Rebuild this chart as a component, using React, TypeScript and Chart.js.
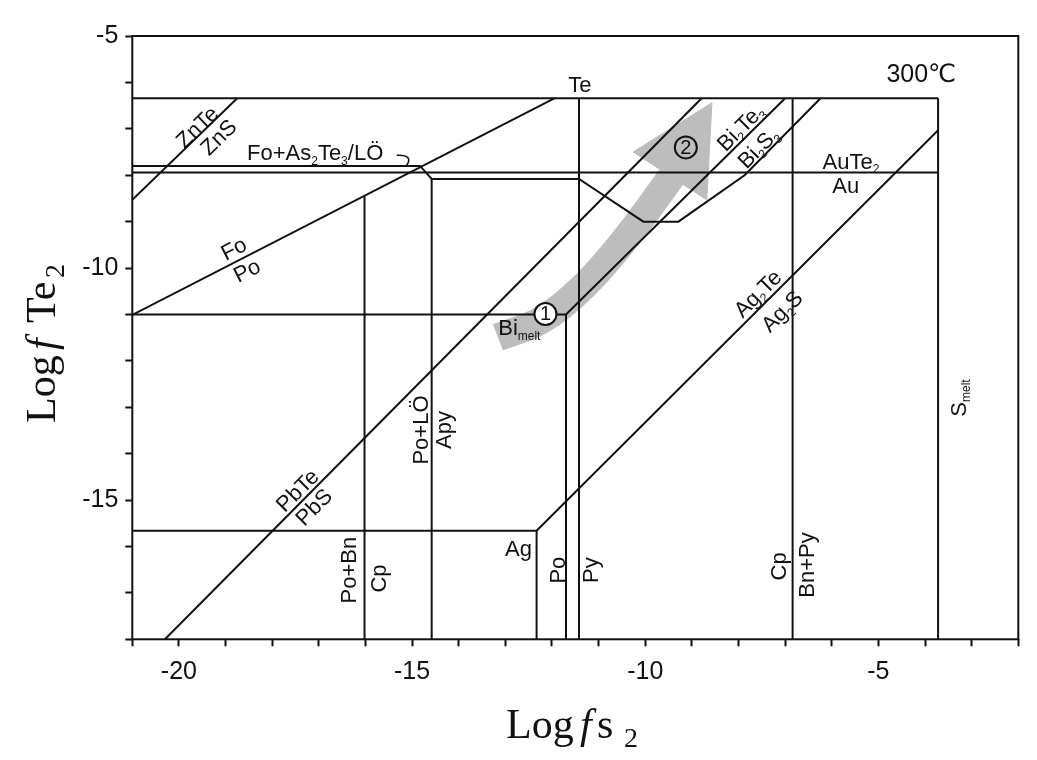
import { useEffect, useRef } from 'react';
import { Chart, registerables } from 'chart.js';

Chart.register(...registerables);

const SANS = "'Liberation Sans', Arial, 'DejaVu Sans', sans-serif";
const SERIF = "'Liberation Serif', 'Times New Roman', serif";
const INK = '#111111';
const ARROW_GRAY = '#bdbdbd';

// axis ranges and labelled ticks
const xRange = [-21, -2];
const yRange = [-18, -5];
const xLabeledTicks = [-20, -15, -10, -5];
const yLabeledTicks = [-5, -10, -15];

// phase boundaries, points as [log fS2, log fTe2]
const teBoundary = [[-21, -6.34], [-3.72, -6.34]];
const sMeltBoundary = [[-3.72, -6.34], [-3.72, -18]];
const foAsBoundary = [[-21, -7.8], [-14.83, -7.8], [-14.58, -8.08], [-11.42, -8.08], [-10.04, -9.0], [-9.29, -9.0], [-7.87, -8.0], [-6.24, -6.34]];
const auTe2Boundary = [[-21, -7.94], [-3.72, -7.94]];
const znTeBoundary = [[-21, -8.53], [-18.75, -6.34]];
const foPoBoundary = [[-21, -11.01], [-11.94, -6.34]];
const pbTeBoundary = [[-20.3, -18], [-8.79, -6.34]];
const biMeltBoundary = [[-21, -11.0], [-11.7, -11.0], [-7.0, -6.34]];
const poBoundary = [[-11.7, -11.0], [-11.7, -18]];
const pyBoundary = [[-11.42, -6.34], [-11.42, -18]];
const agBoundary = [[-21, -15.66], [-12.33, -15.66], [-3.72, -7.03]];
const agVertical = [[-12.33, -15.66], [-12.33, -18]];
const cpBnPyBoundary = [[-6.84, -6.34], [-6.84, -18]];
const apyBoundary = [[-14.58, -8.08], [-14.58, -18]];
const poBnBoundary = [[-16.02, -8.45], [-16.02, -18]];

// evolution arrow
const arrowShaft = [[-13.16, -11.49], [-12.26, -11.14], [-11.4, -10.47], [-10.71, -9.72], [-10.11, -8.96], [-9.43, -8.02]];
const arrowHead = [[-10.26, -7.5], [-8.57, -6.44], [-8.68, -8.53], [-10.26, -7.5]];

// field labels: text (_x / _{xx} = subscript), x, y, angle(deg)
const fieldLabels: [string, number, number, number][] = [
  ['ZnTe', -19.62, -6.95, -44],
  ['ZnS', -19.16, -7.17, -44],
  ['Fo', -18.83, -9.57, -27],
  ['Po', -18.55, -10.04, -27],
  ['PbTe', -17.47, -14.78, -45],
  ['PbS', -17.12, -15.14, -45],
  ['Po+LÖ', -14.83, -13.49, -90],
  ['Apy', -14.34, -13.49, -90],
  ['Po+Bn', -16.37, -16.51, -90],
  ['Cp', -15.72, -16.69, -90],
  ['Ag', -12.72, -16.04, 0],
  ['Po', -11.9, -16.51, -90],
  ['Py', -11.18, -16.51, -90],
  ['Bi_{melt}', -12.7, -11.28, 0],
  ['Ag_2Te', -7.6, -10.54, -45],
  ['Ag_2S', -7.08, -10.92, -45],
  ['Bi_2Te_3', -7.97, -6.96, -45],
  ['Bi_2S_3', -7.59, -7.4, -45],
  ['AuTe_2', -5.59, -7.69, 0],
  ['Au', -5.7, -8.22, 0],
  ['Cp', -7.15, -16.43, -90],
  ['Bn+Py', -6.55, -16.4, -90],
  ['S_{melt}', -3.29, -12.8, -90],
  ['Te', -11.4, -6.03, 0],
];
const foAsLabel: [string, number, number] = ['Fo+As_2Te_3/LÖ', -18.54, -7.51];
const tempLabel: [string, number, number] = ['300℃', -4.08, -5.8];
const stageMarks: [string, number, number, boolean][] = [
  ['1', -12.14, -10.99, true],
  ['2', -9.13, -7.4, false],
];
const leaderHook = [[-15.33, -7.57], [-14.96, -7.55], [-15.12, -7.8]];

type Part = { t: string; sub: boolean };
function parseRich(s: string): Part[] {
  const parts: Part[] = [];
  let buf = '';
  let i = 0;
  while (i < s.length) {
    const c = s[i];
    if (c === '_') {
      if (buf) { parts.push({ t: buf, sub: false }); buf = ''; }
      if (s[i + 1] === '{') {
        const end = s.indexOf('}', i);
        parts.push({ t: s.slice(i + 2, end), sub: true });
        i = end + 1;
      } else {
        parts.push({ t: s[i + 1], sub: true });
        i += 2;
      }
    } else {
      buf += c;
      i++;
    }
  }
  if (buf) parts.push({ t: buf, sub: false });
  return parts;
}

function drawRich(ctx: CanvasRenderingContext2D, text: string, x: number, y: number, angle: number, size: number, align: 'center' | 'left') {
  const parts = parseRich(text);
  const subSize = Math.round(size * 0.55);
  ctx.save();
  ctx.translate(x, y);
  ctx.rotate((angle * Math.PI) / 180);
  ctx.textAlign = 'left';
  ctx.textBaseline = 'alphabetic';
  let w = 0;
  for (const p of parts) {
    ctx.font = `${p.sub ? subSize : size}px ${SANS}`;
    w += ctx.measureText(p.t).width;
  }
  let cx = align === 'center' ? -w / 2 : 0;
  const base = size * 0.36;
  for (const p of parts) {
    ctx.font = `${p.sub ? subSize : size}px ${SANS}`;
    ctx.fillText(p.t, cx, p.sub ? base + size * 0.2 : base);
    cx += ctx.measureText(p.t).width;
  }
  ctx.restore();
}

const overlayPlugin = {
  id: 'overlay',
  afterDatasetsDraw(chart: any) {
    const { ctx, chartArea: a, scales } = chart;
    const sx = scales.x;
    const sy = scales.y;
    const px = (v: number) => sx.getPixelForValue(v);
    const py = (v: number) => sy.getPixelForValue(v);
    ctx.save();
    ctx.strokeStyle = INK;
    ctx.fillStyle = INK;
    ctx.lineWidth = 2;
    ctx.strokeRect(a.left, a.top, a.right - a.left, a.bottom - a.top);

    for (const [t, x, y, ang] of fieldLabels) drawRich(ctx, t, px(x), py(y), ang, 22, 'center');
    drawRich(ctx, foAsLabel[0], px(foAsLabel[1]), py(foAsLabel[2]), 0, 22, 'left');
    drawRich(ctx, tempLabel[0], px(tempLabel[1]), py(tempLabel[2]), 0, 25, 'center');

    // leader hook from label to its boundary
    ctx.beginPath();
    ctx.lineWidth = 1.6;
    ctx.moveTo(px(leaderHook[0][0]), py(leaderHook[0][1]));
    ctx.quadraticCurveTo(px(leaderHook[1][0]), py(leaderHook[1][1]), px(leaderHook[2][0]), py(leaderHook[2][1]));
    ctx.stroke();

    // stage circles
    for (const [t, x, y, filled] of stageMarks) {
      const cx = px(x);
      const cy = py(y);
      ctx.beginPath();
      ctx.arc(cx, cy, 11, 0, Math.PI * 2);
      if (filled) { ctx.fillStyle = '#ffffff'; ctx.fill(); }
      ctx.lineWidth = 2;
      ctx.strokeStyle = INK;
      ctx.stroke();
      ctx.fillStyle = INK;
      ctx.font = `20px ${SANS}`;
      ctx.textAlign = 'center';
      ctx.textBaseline = 'middle';
      ctx.fillText(t, cx, cy + 1);
    }
    ctx.restore();
  },
  afterDraw(chart: any) {
    const { ctx } = chart;
    ctx.save();
    ctx.fillStyle = INK;
    ctx.textAlign = 'left';
    ctx.textBaseline = 'alphabetic';
    // x title: Log fs2
    ctx.font = `42px ${SERIF}`;
    ctx.fillText('Log', 506, 738);
    ctx.font = `italic 42px ${SERIF}`;
    ctx.fillText('f', 580, 738);
    ctx.font = `42px ${SERIF}`;
    ctx.fillText('s', 597, 738);
    ctx.font = `28px ${SERIF}`;
    ctx.fillText('2', 624, 747);
    // y title: Log fTe2
    ctx.translate(55, 423);
    ctx.rotate(-Math.PI / 2);
    ctx.font = `42px ${SERIF}`;
    ctx.fillText('Log', 0, 0);
    ctx.font = `italic 42px ${SERIF}`;
    ctx.fillText('f', 73, 0);
    ctx.font = `42px ${SERIF}`;
    ctx.fillText('Te', 100, 0);
    ctx.font = `28px ${SERIF}`;
    ctx.fillText('2', 145, 9);
    ctx.restore();
  },
};

const toXY = (pts: number[][]) => pts.map(([x, y]) => ({ x, y }));

export default function App() {
  const ref = useRef<HTMLCanvasElement>(null);
  useEffect(() => {
    if (!ref.current) return;
    const boundaries = [
      teBoundary, sMeltBoundary, foAsBoundary, auTe2Boundary, znTeBoundary, foPoBoundary,
      pbTeBoundary, biMeltBoundary, poBoundary, pyBoundary, agBoundary, agVertical,
      cpBnPyBoundary, apyBoundary, poBnBoundary,
    ];
    const datasets: any[] = boundaries.map((pts) => ({
      type: 'line',
      data: toXY(pts),
      borderColor: INK,
      borderWidth: 2,
      pointRadius: 0,
      fill: false,
      tension: 0,
      order: 1,
    }));
    datasets.push({
      type: 'line',
      data: toXY(arrowShaft),
      borderColor: ARROW_GRAY,
      borderWidth: 28,
      borderCapStyle: 'butt',
      borderJoinStyle: 'round',
      pointRadius: 0,
      fill: false,
      tension: 0.4,
      order: 10,
    });
    datasets.push({
      type: 'line',
      data: toXY(arrowHead),
      borderColor: ARROW_GRAY,
      backgroundColor: ARROW_GRAY,
      borderWidth: 1,
      pointRadius: 0,
      fill: 'shape',
      tension: 0,
      order: 10,
    });

    const tickFont = { size: 25, family: SANS };
    const chart = new Chart(ref.current, {
      type: 'line',
      data: { datasets },
      plugins: [overlayPlugin],
      options: {
        responsive: false,
        animation: false,
        devicePixelRatio: 1,
        layout: { padding: { left: 0, top: 36, right: 18.7, bottom: 0 } },
        plugins: { legend: { display: false }, tooltip: { enabled: false } },
        scales: {
          x: {
            type: 'linear',
            position: 'bottom',
            min: xRange[0],
            max: xRange[1],
            afterFit: (s: any) => { s.height = 120.7; },
            border: { display: false },
            grid: { display: true, drawOnChartArea: false, drawTicks: true, tickLength: 7, tickColor: INK, tickWidth: 2 },
            ticks: {
              stepSize: 1,
              autoSkip: false,
              maxRotation: 0,
              minRotation: 0,
              padding: 11,
              color: INK,
              font: tickFont,
              callback: (v: any) => (xLabeledTicks.includes(Number(v)) ? String(v) : ''),
            },
          },
          y: {
            type: 'linear',
            position: 'left',
            min: yRange[0],
            max: yRange[1],
            afterFit: (s: any) => { s.width = 132.3; },
            border: { display: false },
            grid: { display: true, drawOnChartArea: false, drawTicks: true, tickLength: 7, tickColor: INK, tickWidth: 2 },
            ticks: {
              stepSize: 1,
              autoSkip: false,
              padding: 7,
              color: INK,
              font: tickFont,
              callback: (v: any) => (yLabeledTicks.includes(Number(v)) ? String(v) : ''),
            },
          },
        },
      } as any,
    });
    return () => chart.destroy();
  }, []);
  return (
    <div style={{ position: 'absolute', left: 0, top: 0, width: 1037, height: 760, background: '#ffffff' }}>
      <canvas ref={ref} width={1037} height={760} style={{ display: 'block', width: 1037, height: 760 }} />
    </div>
  );
}
